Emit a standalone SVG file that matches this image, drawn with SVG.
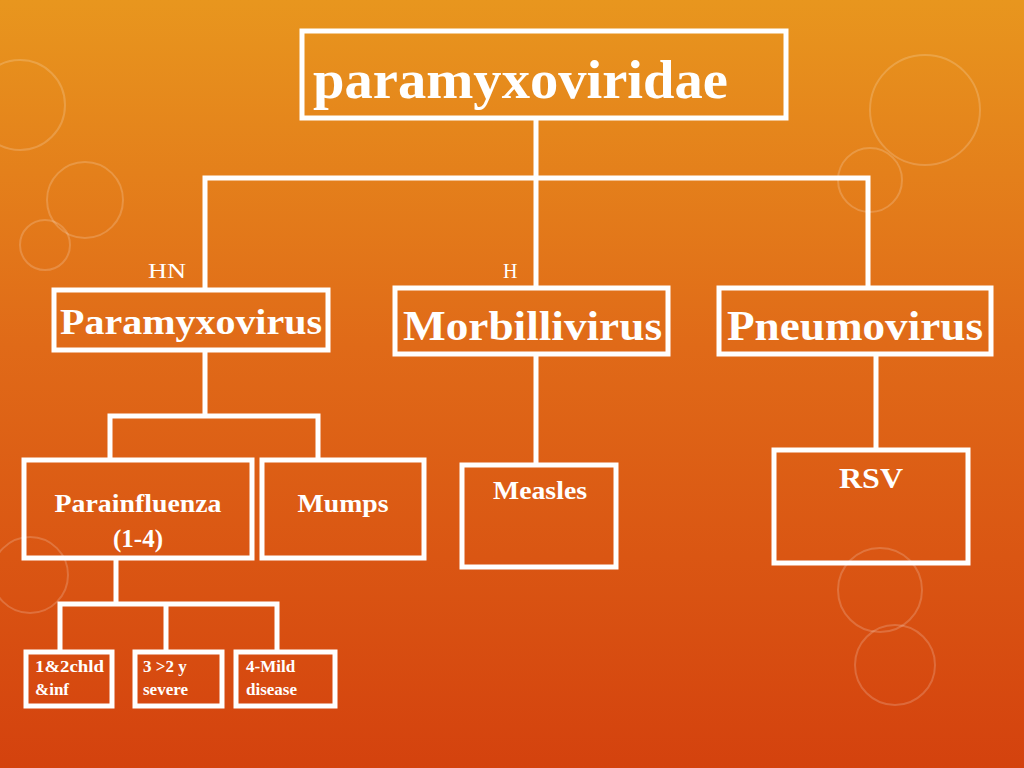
<svg xmlns="http://www.w3.org/2000/svg" width="1024" height="768" viewBox="0 0 1024 768">
<defs>
<linearGradient id="bg" x1="0" y1="0" x2="0" y2="1">
<stop offset="0" stop-color="#E8961E"/><stop offset="0.45" stop-color="#E06A18"/><stop offset="1" stop-color="#D4420E"/>
</linearGradient>
<style>
.b{fill:none;stroke:#fff;stroke-width:5}
.l{fill:none;stroke:#fff;stroke-width:5}
text{fill:#fff;font-family:"Liberation Serif",serif;font-weight:bold}
.c{text-anchor:middle}
.n{font-weight:normal}
.d{fill:none;stroke:#fff;stroke-opacity:0.18;stroke-width:2}
</style>
</defs>
<rect width="1024" height="768" fill="url(#bg)"/>
<g>
<circle class="d" cx="20" cy="105" r="45"/><circle class="d" cx="85" cy="200" r="38"/><circle class="d" cx="45" cy="245" r="25"/>
<circle class="d" cx="925" cy="110" r="55"/><circle class="d" cx="870" cy="180" r="32"/><circle class="d" cx="880" cy="590" r="42"/><circle class="d" cx="895" cy="665" r="40"/><circle class="d" cx="30" cy="575" r="38"/>
</g>
<g id="connectors">
<path class="l" d="M536 118V178M205 290V178H868V288M536 178V288"/>
<path class="l" d="M205 350V416M110 460V416H318V460"/>
<path class="l" d="M536 354V465M876 354V450"/>
<path class="l" d="M116 558V604M60 652V604H277V652M166 604V652"/>
</g>
<text class="n" x="148" y="278" font-size="20" textLength="38" lengthAdjust="spacingAndGlyphs">HN</text>
<text class="n" x="503" y="278" font-size="20">H</text>
<g id="root"><rect class="b" x="302" y="31" width="484" height="87"/><text x="313" y="98" font-size="54" textLength="415" lengthAdjust="spacingAndGlyphs">paramyxoviridae</text></g>
<g id="paramyxovirus"><rect class="b" x="54" y="290" width="274" height="60"/><text x="60" y="334" font-size="35" textLength="262" lengthAdjust="spacingAndGlyphs">Paramyxovirus</text></g>
<g id="morbillivirus"><rect class="b" x="395" y="288" width="273" height="66"/><text x="403" y="340" font-size="43" textLength="259" lengthAdjust="spacingAndGlyphs">Morbillivirus</text></g>
<g id="pneumovirus"><rect class="b" x="719" y="288" width="272" height="66"/><text x="727" y="340" font-size="42" textLength="256" lengthAdjust="spacingAndGlyphs">Pneumovirus</text></g>
<g id="parainfluenza"><rect class="b" x="24" y="460" width="228" height="98"/><text class="c" x="138" y="512" font-size="25" textLength="167" lengthAdjust="spacingAndGlyphs">Parainfluenza</text><text class="c" x="138" y="547" font-size="25">(1-4)</text></g>
<g id="mumps"><rect class="b" x="262" y="460" width="162" height="98"/><text class="c" x="343" y="512" font-size="25" textLength="91" lengthAdjust="spacingAndGlyphs">Mumps</text></g>
<g id="measles"><rect class="b" x="462" y="465" width="154" height="102"/><text class="c" x="540" y="499" font-size="25" textLength="94" lengthAdjust="spacingAndGlyphs">Measles</text></g>
<g id="rsv"><rect class="b" x="774" y="450" width="194" height="113"/><text class="c" x="871" y="488" font-size="29" textLength="64" lengthAdjust="spacingAndGlyphs">RSV</text></g>
<g id="p12"><rect class="b" x="26" y="652" width="86" height="54"/><text x="35" y="672" font-size="17" textLength="69" lengthAdjust="spacingAndGlyphs">1&amp;2chld</text><text x="35" y="695" font-size="17">&amp;inf</text></g>
<g id="p3"><rect class="b" x="135" y="652" width="87" height="54"/><text x="143" y="672" font-size="17">3 &gt;2 y</text><text x="143" y="695" font-size="17">severe</text></g>
<g id="p4"><rect class="b" x="236" y="652" width="99" height="54"/><text x="246" y="672" font-size="17">4-Mild</text><text x="246" y="695" font-size="17">disease</text></g>
</svg>
